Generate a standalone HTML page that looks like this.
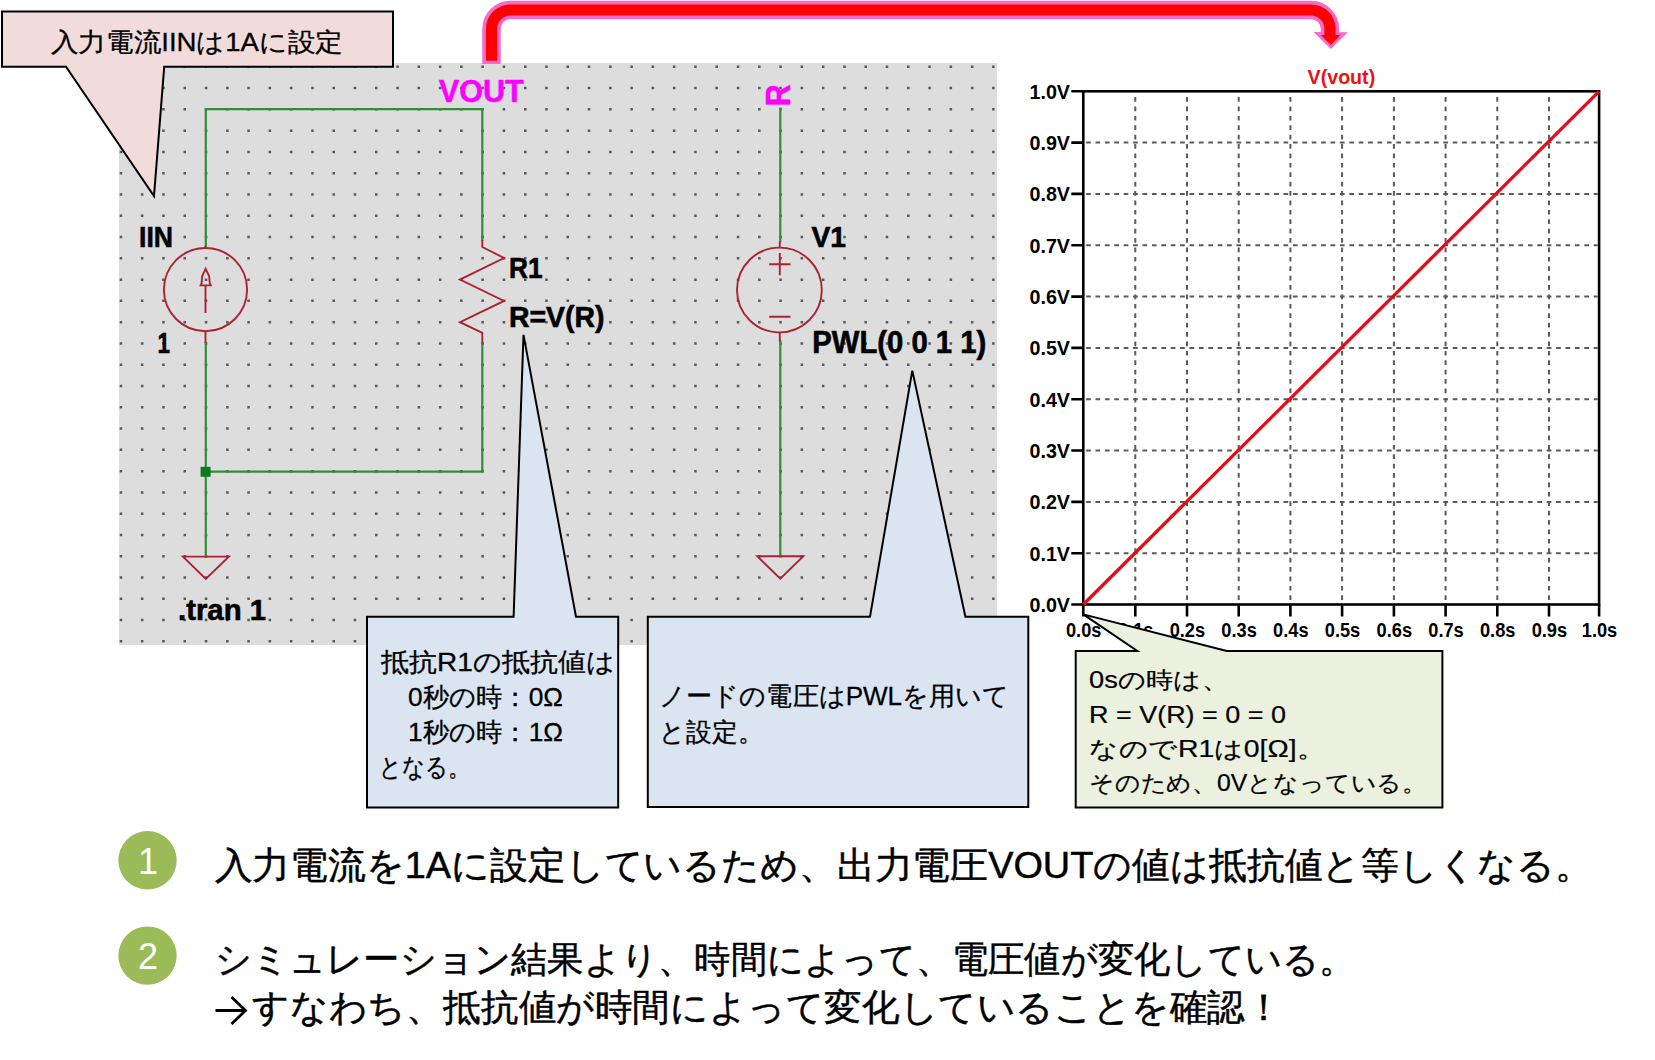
<!DOCTYPE html><html><head><meta charset="utf-8"><title>LTspice behavioral resistor</title><style>html,body{margin:0;padding:0;background:#fff;width:1655px;height:1060px;overflow:hidden}svg{display:block}text{font-family:"Liberation Sans",sans-serif}</style></head><body>
<svg width="1655" height="1060" viewBox="0 0 1655 1060">
<rect x="119" y="63" width="878" height="582" fill="#dddddd"/>
<path fill="#585858" d="M119.7 65.5h2.5v2.5h-2.5zM119.7 86.8h2.5v2.5h-2.5zM119.7 108.1h2.5v2.5h-2.5zM119.7 129.4h2.5v2.5h-2.5zM119.7 150.7h2.5v2.5h-2.5zM119.7 171.9h2.5v2.5h-2.5zM119.7 193.2h2.5v2.5h-2.5zM119.7 214.5h2.5v2.5h-2.5zM119.7 235.8h2.5v2.5h-2.5zM119.7 257.1h2.5v2.5h-2.5zM119.7 278.4h2.5v2.5h-2.5zM119.7 299.6h2.5v2.5h-2.5zM119.7 320.9h2.5v2.5h-2.5zM119.7 342.2h2.5v2.5h-2.5zM119.7 363.5h2.5v2.5h-2.5zM119.7 384.8h2.5v2.5h-2.5zM119.7 406.0h2.5v2.5h-2.5zM119.7 427.3h2.5v2.5h-2.5zM119.7 448.6h2.5v2.5h-2.5zM119.7 469.9h2.5v2.5h-2.5zM119.7 491.2h2.5v2.5h-2.5zM119.7 512.4h2.5v2.5h-2.5zM119.7 533.7h2.5v2.5h-2.5zM119.7 555.0h2.5v2.5h-2.5zM119.7 576.3h2.5v2.5h-2.5zM119.7 597.5h2.5v2.5h-2.5zM119.7 618.8h2.5v2.5h-2.5zM119.7 640.1h2.5v2.5h-2.5zM140.9 65.5h2.5v2.5h-2.5zM140.9 86.8h2.5v2.5h-2.5zM140.9 108.1h2.5v2.5h-2.5zM140.9 129.4h2.5v2.5h-2.5zM140.9 150.7h2.5v2.5h-2.5zM140.9 171.9h2.5v2.5h-2.5zM140.9 193.2h2.5v2.5h-2.5zM140.9 214.5h2.5v2.5h-2.5zM140.9 235.8h2.5v2.5h-2.5zM140.9 257.1h2.5v2.5h-2.5zM140.9 278.4h2.5v2.5h-2.5zM140.9 299.6h2.5v2.5h-2.5zM140.9 320.9h2.5v2.5h-2.5zM140.9 342.2h2.5v2.5h-2.5zM140.9 363.5h2.5v2.5h-2.5zM140.9 384.8h2.5v2.5h-2.5zM140.9 406.0h2.5v2.5h-2.5zM140.9 427.3h2.5v2.5h-2.5zM140.9 448.6h2.5v2.5h-2.5zM140.9 469.9h2.5v2.5h-2.5zM140.9 491.2h2.5v2.5h-2.5zM140.9 512.4h2.5v2.5h-2.5zM140.9 533.7h2.5v2.5h-2.5zM140.9 555.0h2.5v2.5h-2.5zM140.9 576.3h2.5v2.5h-2.5zM140.9 597.5h2.5v2.5h-2.5zM140.9 618.8h2.5v2.5h-2.5zM140.9 640.1h2.5v2.5h-2.5zM162.2 65.5h2.5v2.5h-2.5zM162.2 86.8h2.5v2.5h-2.5zM162.2 108.1h2.5v2.5h-2.5zM162.2 129.4h2.5v2.5h-2.5zM162.2 150.7h2.5v2.5h-2.5zM162.2 171.9h2.5v2.5h-2.5zM162.2 193.2h2.5v2.5h-2.5zM162.2 214.5h2.5v2.5h-2.5zM162.2 235.8h2.5v2.5h-2.5zM162.2 257.1h2.5v2.5h-2.5zM162.2 278.4h2.5v2.5h-2.5zM162.2 299.6h2.5v2.5h-2.5zM162.2 320.9h2.5v2.5h-2.5zM162.2 342.2h2.5v2.5h-2.5zM162.2 363.5h2.5v2.5h-2.5zM162.2 384.8h2.5v2.5h-2.5zM162.2 406.0h2.5v2.5h-2.5zM162.2 427.3h2.5v2.5h-2.5zM162.2 448.6h2.5v2.5h-2.5zM162.2 469.9h2.5v2.5h-2.5zM162.2 491.2h2.5v2.5h-2.5zM162.2 512.4h2.5v2.5h-2.5zM162.2 533.7h2.5v2.5h-2.5zM162.2 555.0h2.5v2.5h-2.5zM162.2 576.3h2.5v2.5h-2.5zM162.2 597.5h2.5v2.5h-2.5zM162.2 618.8h2.5v2.5h-2.5zM162.2 640.1h2.5v2.5h-2.5zM183.5 65.5h2.5v2.5h-2.5zM183.5 86.8h2.5v2.5h-2.5zM183.5 108.1h2.5v2.5h-2.5zM183.5 129.4h2.5v2.5h-2.5zM183.5 150.7h2.5v2.5h-2.5zM183.5 171.9h2.5v2.5h-2.5zM183.5 193.2h2.5v2.5h-2.5zM183.5 214.5h2.5v2.5h-2.5zM183.5 235.8h2.5v2.5h-2.5zM183.5 257.1h2.5v2.5h-2.5zM183.5 278.4h2.5v2.5h-2.5zM183.5 299.6h2.5v2.5h-2.5zM183.5 320.9h2.5v2.5h-2.5zM183.5 342.2h2.5v2.5h-2.5zM183.5 363.5h2.5v2.5h-2.5zM183.5 384.8h2.5v2.5h-2.5zM183.5 406.0h2.5v2.5h-2.5zM183.5 427.3h2.5v2.5h-2.5zM183.5 448.6h2.5v2.5h-2.5zM183.5 469.9h2.5v2.5h-2.5zM183.5 491.2h2.5v2.5h-2.5zM183.5 512.4h2.5v2.5h-2.5zM183.5 533.7h2.5v2.5h-2.5zM183.5 555.0h2.5v2.5h-2.5zM183.5 576.3h2.5v2.5h-2.5zM183.5 597.5h2.5v2.5h-2.5zM183.5 618.8h2.5v2.5h-2.5zM183.5 640.1h2.5v2.5h-2.5zM204.8 65.5h2.5v2.5h-2.5zM204.8 86.8h2.5v2.5h-2.5zM204.8 108.1h2.5v2.5h-2.5zM204.8 129.4h2.5v2.5h-2.5zM204.8 150.7h2.5v2.5h-2.5zM204.8 171.9h2.5v2.5h-2.5zM204.8 193.2h2.5v2.5h-2.5zM204.8 214.5h2.5v2.5h-2.5zM204.8 235.8h2.5v2.5h-2.5zM204.8 257.1h2.5v2.5h-2.5zM204.8 278.4h2.5v2.5h-2.5zM204.8 299.6h2.5v2.5h-2.5zM204.8 320.9h2.5v2.5h-2.5zM204.8 342.2h2.5v2.5h-2.5zM204.8 363.5h2.5v2.5h-2.5zM204.8 384.8h2.5v2.5h-2.5zM204.8 406.0h2.5v2.5h-2.5zM204.8 427.3h2.5v2.5h-2.5zM204.8 448.6h2.5v2.5h-2.5zM204.8 469.9h2.5v2.5h-2.5zM204.8 491.2h2.5v2.5h-2.5zM204.8 512.4h2.5v2.5h-2.5zM204.8 533.7h2.5v2.5h-2.5zM204.8 555.0h2.5v2.5h-2.5zM204.8 576.3h2.5v2.5h-2.5zM204.8 597.5h2.5v2.5h-2.5zM204.8 618.8h2.5v2.5h-2.5zM204.8 640.1h2.5v2.5h-2.5zM226.1 65.5h2.5v2.5h-2.5zM226.1 86.8h2.5v2.5h-2.5zM226.1 108.1h2.5v2.5h-2.5zM226.1 129.4h2.5v2.5h-2.5zM226.1 150.7h2.5v2.5h-2.5zM226.1 171.9h2.5v2.5h-2.5zM226.1 193.2h2.5v2.5h-2.5zM226.1 214.5h2.5v2.5h-2.5zM226.1 235.8h2.5v2.5h-2.5zM226.1 257.1h2.5v2.5h-2.5zM226.1 278.4h2.5v2.5h-2.5zM226.1 299.6h2.5v2.5h-2.5zM226.1 320.9h2.5v2.5h-2.5zM226.1 342.2h2.5v2.5h-2.5zM226.1 363.5h2.5v2.5h-2.5zM226.1 384.8h2.5v2.5h-2.5zM226.1 406.0h2.5v2.5h-2.5zM226.1 427.3h2.5v2.5h-2.5zM226.1 448.6h2.5v2.5h-2.5zM226.1 469.9h2.5v2.5h-2.5zM226.1 491.2h2.5v2.5h-2.5zM226.1 512.4h2.5v2.5h-2.5zM226.1 533.7h2.5v2.5h-2.5zM226.1 555.0h2.5v2.5h-2.5zM226.1 576.3h2.5v2.5h-2.5zM226.1 597.5h2.5v2.5h-2.5zM226.1 618.8h2.5v2.5h-2.5zM226.1 640.1h2.5v2.5h-2.5zM247.3 65.5h2.5v2.5h-2.5zM247.3 86.8h2.5v2.5h-2.5zM247.3 108.1h2.5v2.5h-2.5zM247.3 129.4h2.5v2.5h-2.5zM247.3 150.7h2.5v2.5h-2.5zM247.3 171.9h2.5v2.5h-2.5zM247.3 193.2h2.5v2.5h-2.5zM247.3 214.5h2.5v2.5h-2.5zM247.3 235.8h2.5v2.5h-2.5zM247.3 257.1h2.5v2.5h-2.5zM247.3 278.4h2.5v2.5h-2.5zM247.3 299.6h2.5v2.5h-2.5zM247.3 320.9h2.5v2.5h-2.5zM247.3 342.2h2.5v2.5h-2.5zM247.3 363.5h2.5v2.5h-2.5zM247.3 384.8h2.5v2.5h-2.5zM247.3 406.0h2.5v2.5h-2.5zM247.3 427.3h2.5v2.5h-2.5zM247.3 448.6h2.5v2.5h-2.5zM247.3 469.9h2.5v2.5h-2.5zM247.3 491.2h2.5v2.5h-2.5zM247.3 512.4h2.5v2.5h-2.5zM247.3 533.7h2.5v2.5h-2.5zM247.3 555.0h2.5v2.5h-2.5zM247.3 576.3h2.5v2.5h-2.5zM247.3 597.5h2.5v2.5h-2.5zM247.3 618.8h2.5v2.5h-2.5zM247.3 640.1h2.5v2.5h-2.5zM268.6 65.5h2.5v2.5h-2.5zM268.6 86.8h2.5v2.5h-2.5zM268.6 108.1h2.5v2.5h-2.5zM268.6 129.4h2.5v2.5h-2.5zM268.6 150.7h2.5v2.5h-2.5zM268.6 171.9h2.5v2.5h-2.5zM268.6 193.2h2.5v2.5h-2.5zM268.6 214.5h2.5v2.5h-2.5zM268.6 235.8h2.5v2.5h-2.5zM268.6 257.1h2.5v2.5h-2.5zM268.6 278.4h2.5v2.5h-2.5zM268.6 299.6h2.5v2.5h-2.5zM268.6 320.9h2.5v2.5h-2.5zM268.6 342.2h2.5v2.5h-2.5zM268.6 363.5h2.5v2.5h-2.5zM268.6 384.8h2.5v2.5h-2.5zM268.6 406.0h2.5v2.5h-2.5zM268.6 427.3h2.5v2.5h-2.5zM268.6 448.6h2.5v2.5h-2.5zM268.6 469.9h2.5v2.5h-2.5zM268.6 491.2h2.5v2.5h-2.5zM268.6 512.4h2.5v2.5h-2.5zM268.6 533.7h2.5v2.5h-2.5zM268.6 555.0h2.5v2.5h-2.5zM268.6 576.3h2.5v2.5h-2.5zM268.6 597.5h2.5v2.5h-2.5zM268.6 618.8h2.5v2.5h-2.5zM268.6 640.1h2.5v2.5h-2.5zM289.9 65.5h2.5v2.5h-2.5zM289.9 86.8h2.5v2.5h-2.5zM289.9 108.1h2.5v2.5h-2.5zM289.9 129.4h2.5v2.5h-2.5zM289.9 150.7h2.5v2.5h-2.5zM289.9 171.9h2.5v2.5h-2.5zM289.9 193.2h2.5v2.5h-2.5zM289.9 214.5h2.5v2.5h-2.5zM289.9 235.8h2.5v2.5h-2.5zM289.9 257.1h2.5v2.5h-2.5zM289.9 278.4h2.5v2.5h-2.5zM289.9 299.6h2.5v2.5h-2.5zM289.9 320.9h2.5v2.5h-2.5zM289.9 342.2h2.5v2.5h-2.5zM289.9 363.5h2.5v2.5h-2.5zM289.9 384.8h2.5v2.5h-2.5zM289.9 406.0h2.5v2.5h-2.5zM289.9 427.3h2.5v2.5h-2.5zM289.9 448.6h2.5v2.5h-2.5zM289.9 469.9h2.5v2.5h-2.5zM289.9 491.2h2.5v2.5h-2.5zM289.9 512.4h2.5v2.5h-2.5zM289.9 533.7h2.5v2.5h-2.5zM289.9 555.0h2.5v2.5h-2.5zM289.9 576.3h2.5v2.5h-2.5zM289.9 597.5h2.5v2.5h-2.5zM289.9 618.8h2.5v2.5h-2.5zM289.9 640.1h2.5v2.5h-2.5zM311.2 65.5h2.5v2.5h-2.5zM311.2 86.8h2.5v2.5h-2.5zM311.2 108.1h2.5v2.5h-2.5zM311.2 129.4h2.5v2.5h-2.5zM311.2 150.7h2.5v2.5h-2.5zM311.2 171.9h2.5v2.5h-2.5zM311.2 193.2h2.5v2.5h-2.5zM311.2 214.5h2.5v2.5h-2.5zM311.2 235.8h2.5v2.5h-2.5zM311.2 257.1h2.5v2.5h-2.5zM311.2 278.4h2.5v2.5h-2.5zM311.2 299.6h2.5v2.5h-2.5zM311.2 320.9h2.5v2.5h-2.5zM311.2 342.2h2.5v2.5h-2.5zM311.2 363.5h2.5v2.5h-2.5zM311.2 384.8h2.5v2.5h-2.5zM311.2 406.0h2.5v2.5h-2.5zM311.2 427.3h2.5v2.5h-2.5zM311.2 448.6h2.5v2.5h-2.5zM311.2 469.9h2.5v2.5h-2.5zM311.2 491.2h2.5v2.5h-2.5zM311.2 512.4h2.5v2.5h-2.5zM311.2 533.7h2.5v2.5h-2.5zM311.2 555.0h2.5v2.5h-2.5zM311.2 576.3h2.5v2.5h-2.5zM311.2 597.5h2.5v2.5h-2.5zM311.2 618.8h2.5v2.5h-2.5zM311.2 640.1h2.5v2.5h-2.5zM332.5 65.5h2.5v2.5h-2.5zM332.5 86.8h2.5v2.5h-2.5zM332.5 108.1h2.5v2.5h-2.5zM332.5 129.4h2.5v2.5h-2.5zM332.5 150.7h2.5v2.5h-2.5zM332.5 171.9h2.5v2.5h-2.5zM332.5 193.2h2.5v2.5h-2.5zM332.5 214.5h2.5v2.5h-2.5zM332.5 235.8h2.5v2.5h-2.5zM332.5 257.1h2.5v2.5h-2.5zM332.5 278.4h2.5v2.5h-2.5zM332.5 299.6h2.5v2.5h-2.5zM332.5 320.9h2.5v2.5h-2.5zM332.5 342.2h2.5v2.5h-2.5zM332.5 363.5h2.5v2.5h-2.5zM332.5 384.8h2.5v2.5h-2.5zM332.5 406.0h2.5v2.5h-2.5zM332.5 427.3h2.5v2.5h-2.5zM332.5 448.6h2.5v2.5h-2.5zM332.5 469.9h2.5v2.5h-2.5zM332.5 491.2h2.5v2.5h-2.5zM332.5 512.4h2.5v2.5h-2.5zM332.5 533.7h2.5v2.5h-2.5zM332.5 555.0h2.5v2.5h-2.5zM332.5 576.3h2.5v2.5h-2.5zM332.5 597.5h2.5v2.5h-2.5zM332.5 618.8h2.5v2.5h-2.5zM332.5 640.1h2.5v2.5h-2.5zM353.7 65.5h2.5v2.5h-2.5zM353.7 86.8h2.5v2.5h-2.5zM353.7 108.1h2.5v2.5h-2.5zM353.7 129.4h2.5v2.5h-2.5zM353.7 150.7h2.5v2.5h-2.5zM353.7 171.9h2.5v2.5h-2.5zM353.7 193.2h2.5v2.5h-2.5zM353.7 214.5h2.5v2.5h-2.5zM353.7 235.8h2.5v2.5h-2.5zM353.7 257.1h2.5v2.5h-2.5zM353.7 278.4h2.5v2.5h-2.5zM353.7 299.6h2.5v2.5h-2.5zM353.7 320.9h2.5v2.5h-2.5zM353.7 342.2h2.5v2.5h-2.5zM353.7 363.5h2.5v2.5h-2.5zM353.7 384.8h2.5v2.5h-2.5zM353.7 406.0h2.5v2.5h-2.5zM353.7 427.3h2.5v2.5h-2.5zM353.7 448.6h2.5v2.5h-2.5zM353.7 469.9h2.5v2.5h-2.5zM353.7 491.2h2.5v2.5h-2.5zM353.7 512.4h2.5v2.5h-2.5zM353.7 533.7h2.5v2.5h-2.5zM353.7 555.0h2.5v2.5h-2.5zM353.7 576.3h2.5v2.5h-2.5zM353.7 597.5h2.5v2.5h-2.5zM353.7 618.8h2.5v2.5h-2.5zM353.7 640.1h2.5v2.5h-2.5zM375.0 65.5h2.5v2.5h-2.5zM375.0 86.8h2.5v2.5h-2.5zM375.0 108.1h2.5v2.5h-2.5zM375.0 129.4h2.5v2.5h-2.5zM375.0 150.7h2.5v2.5h-2.5zM375.0 171.9h2.5v2.5h-2.5zM375.0 193.2h2.5v2.5h-2.5zM375.0 214.5h2.5v2.5h-2.5zM375.0 235.8h2.5v2.5h-2.5zM375.0 257.1h2.5v2.5h-2.5zM375.0 278.4h2.5v2.5h-2.5zM375.0 299.6h2.5v2.5h-2.5zM375.0 320.9h2.5v2.5h-2.5zM375.0 342.2h2.5v2.5h-2.5zM375.0 363.5h2.5v2.5h-2.5zM375.0 384.8h2.5v2.5h-2.5zM375.0 406.0h2.5v2.5h-2.5zM375.0 427.3h2.5v2.5h-2.5zM375.0 448.6h2.5v2.5h-2.5zM375.0 469.9h2.5v2.5h-2.5zM375.0 491.2h2.5v2.5h-2.5zM375.0 512.4h2.5v2.5h-2.5zM375.0 533.7h2.5v2.5h-2.5zM375.0 555.0h2.5v2.5h-2.5zM375.0 576.3h2.5v2.5h-2.5zM375.0 597.5h2.5v2.5h-2.5zM375.0 618.8h2.5v2.5h-2.5zM375.0 640.1h2.5v2.5h-2.5zM396.3 65.5h2.5v2.5h-2.5zM396.3 86.8h2.5v2.5h-2.5zM396.3 108.1h2.5v2.5h-2.5zM396.3 129.4h2.5v2.5h-2.5zM396.3 150.7h2.5v2.5h-2.5zM396.3 171.9h2.5v2.5h-2.5zM396.3 193.2h2.5v2.5h-2.5zM396.3 214.5h2.5v2.5h-2.5zM396.3 235.8h2.5v2.5h-2.5zM396.3 257.1h2.5v2.5h-2.5zM396.3 278.4h2.5v2.5h-2.5zM396.3 299.6h2.5v2.5h-2.5zM396.3 320.9h2.5v2.5h-2.5zM396.3 342.2h2.5v2.5h-2.5zM396.3 363.5h2.5v2.5h-2.5zM396.3 384.8h2.5v2.5h-2.5zM396.3 406.0h2.5v2.5h-2.5zM396.3 427.3h2.5v2.5h-2.5zM396.3 448.6h2.5v2.5h-2.5zM396.3 469.9h2.5v2.5h-2.5zM396.3 491.2h2.5v2.5h-2.5zM396.3 512.4h2.5v2.5h-2.5zM396.3 533.7h2.5v2.5h-2.5zM396.3 555.0h2.5v2.5h-2.5zM396.3 576.3h2.5v2.5h-2.5zM396.3 597.5h2.5v2.5h-2.5zM396.3 618.8h2.5v2.5h-2.5zM396.3 640.1h2.5v2.5h-2.5zM417.6 65.5h2.5v2.5h-2.5zM417.6 86.8h2.5v2.5h-2.5zM417.6 108.1h2.5v2.5h-2.5zM417.6 129.4h2.5v2.5h-2.5zM417.6 150.7h2.5v2.5h-2.5zM417.6 171.9h2.5v2.5h-2.5zM417.6 193.2h2.5v2.5h-2.5zM417.6 214.5h2.5v2.5h-2.5zM417.6 235.8h2.5v2.5h-2.5zM417.6 257.1h2.5v2.5h-2.5zM417.6 278.4h2.5v2.5h-2.5zM417.6 299.6h2.5v2.5h-2.5zM417.6 320.9h2.5v2.5h-2.5zM417.6 342.2h2.5v2.5h-2.5zM417.6 363.5h2.5v2.5h-2.5zM417.6 384.8h2.5v2.5h-2.5zM417.6 406.0h2.5v2.5h-2.5zM417.6 427.3h2.5v2.5h-2.5zM417.6 448.6h2.5v2.5h-2.5zM417.6 469.9h2.5v2.5h-2.5zM417.6 491.2h2.5v2.5h-2.5zM417.6 512.4h2.5v2.5h-2.5zM417.6 533.7h2.5v2.5h-2.5zM417.6 555.0h2.5v2.5h-2.5zM417.6 576.3h2.5v2.5h-2.5zM417.6 597.5h2.5v2.5h-2.5zM417.6 618.8h2.5v2.5h-2.5zM417.6 640.1h2.5v2.5h-2.5zM438.9 65.5h2.5v2.5h-2.5zM438.9 86.8h2.5v2.5h-2.5zM438.9 108.1h2.5v2.5h-2.5zM438.9 129.4h2.5v2.5h-2.5zM438.9 150.7h2.5v2.5h-2.5zM438.9 171.9h2.5v2.5h-2.5zM438.9 193.2h2.5v2.5h-2.5zM438.9 214.5h2.5v2.5h-2.5zM438.9 235.8h2.5v2.5h-2.5zM438.9 257.1h2.5v2.5h-2.5zM438.9 278.4h2.5v2.5h-2.5zM438.9 299.6h2.5v2.5h-2.5zM438.9 320.9h2.5v2.5h-2.5zM438.9 342.2h2.5v2.5h-2.5zM438.9 363.5h2.5v2.5h-2.5zM438.9 384.8h2.5v2.5h-2.5zM438.9 406.0h2.5v2.5h-2.5zM438.9 427.3h2.5v2.5h-2.5zM438.9 448.6h2.5v2.5h-2.5zM438.9 469.9h2.5v2.5h-2.5zM438.9 491.2h2.5v2.5h-2.5zM438.9 512.4h2.5v2.5h-2.5zM438.9 533.7h2.5v2.5h-2.5zM438.9 555.0h2.5v2.5h-2.5zM438.9 576.3h2.5v2.5h-2.5zM438.9 597.5h2.5v2.5h-2.5zM438.9 618.8h2.5v2.5h-2.5zM438.9 640.1h2.5v2.5h-2.5zM460.1 65.5h2.5v2.5h-2.5zM460.1 86.8h2.5v2.5h-2.5zM460.1 108.1h2.5v2.5h-2.5zM460.1 129.4h2.5v2.5h-2.5zM460.1 150.7h2.5v2.5h-2.5zM460.1 171.9h2.5v2.5h-2.5zM460.1 193.2h2.5v2.5h-2.5zM460.1 214.5h2.5v2.5h-2.5zM460.1 235.8h2.5v2.5h-2.5zM460.1 257.1h2.5v2.5h-2.5zM460.1 278.4h2.5v2.5h-2.5zM460.1 299.6h2.5v2.5h-2.5zM460.1 320.9h2.5v2.5h-2.5zM460.1 342.2h2.5v2.5h-2.5zM460.1 363.5h2.5v2.5h-2.5zM460.1 384.8h2.5v2.5h-2.5zM460.1 406.0h2.5v2.5h-2.5zM460.1 427.3h2.5v2.5h-2.5zM460.1 448.6h2.5v2.5h-2.5zM460.1 469.9h2.5v2.5h-2.5zM460.1 491.2h2.5v2.5h-2.5zM460.1 512.4h2.5v2.5h-2.5zM460.1 533.7h2.5v2.5h-2.5zM460.1 555.0h2.5v2.5h-2.5zM460.1 576.3h2.5v2.5h-2.5zM460.1 597.5h2.5v2.5h-2.5zM460.1 618.8h2.5v2.5h-2.5zM460.1 640.1h2.5v2.5h-2.5zM481.4 65.5h2.5v2.5h-2.5zM481.4 86.8h2.5v2.5h-2.5zM481.4 108.1h2.5v2.5h-2.5zM481.4 129.4h2.5v2.5h-2.5zM481.4 150.7h2.5v2.5h-2.5zM481.4 171.9h2.5v2.5h-2.5zM481.4 193.2h2.5v2.5h-2.5zM481.4 214.5h2.5v2.5h-2.5zM481.4 235.8h2.5v2.5h-2.5zM481.4 257.1h2.5v2.5h-2.5zM481.4 278.4h2.5v2.5h-2.5zM481.4 299.6h2.5v2.5h-2.5zM481.4 320.9h2.5v2.5h-2.5zM481.4 342.2h2.5v2.5h-2.5zM481.4 363.5h2.5v2.5h-2.5zM481.4 384.8h2.5v2.5h-2.5zM481.4 406.0h2.5v2.5h-2.5zM481.4 427.3h2.5v2.5h-2.5zM481.4 448.6h2.5v2.5h-2.5zM481.4 469.9h2.5v2.5h-2.5zM481.4 491.2h2.5v2.5h-2.5zM481.4 512.4h2.5v2.5h-2.5zM481.4 533.7h2.5v2.5h-2.5zM481.4 555.0h2.5v2.5h-2.5zM481.4 576.3h2.5v2.5h-2.5zM481.4 597.5h2.5v2.5h-2.5zM481.4 618.8h2.5v2.5h-2.5zM481.4 640.1h2.5v2.5h-2.5zM502.7 65.5h2.5v2.5h-2.5zM502.7 86.8h2.5v2.5h-2.5zM502.7 108.1h2.5v2.5h-2.5zM502.7 129.4h2.5v2.5h-2.5zM502.7 150.7h2.5v2.5h-2.5zM502.7 171.9h2.5v2.5h-2.5zM502.7 193.2h2.5v2.5h-2.5zM502.7 214.5h2.5v2.5h-2.5zM502.7 235.8h2.5v2.5h-2.5zM502.7 257.1h2.5v2.5h-2.5zM502.7 278.4h2.5v2.5h-2.5zM502.7 299.6h2.5v2.5h-2.5zM502.7 320.9h2.5v2.5h-2.5zM502.7 342.2h2.5v2.5h-2.5zM502.7 363.5h2.5v2.5h-2.5zM502.7 384.8h2.5v2.5h-2.5zM502.7 406.0h2.5v2.5h-2.5zM502.7 427.3h2.5v2.5h-2.5zM502.7 448.6h2.5v2.5h-2.5zM502.7 469.9h2.5v2.5h-2.5zM502.7 491.2h2.5v2.5h-2.5zM502.7 512.4h2.5v2.5h-2.5zM502.7 533.7h2.5v2.5h-2.5zM502.7 555.0h2.5v2.5h-2.5zM502.7 576.3h2.5v2.5h-2.5zM502.7 597.5h2.5v2.5h-2.5zM502.7 618.8h2.5v2.5h-2.5zM502.7 640.1h2.5v2.5h-2.5zM524.0 65.5h2.5v2.5h-2.5zM524.0 86.8h2.5v2.5h-2.5zM524.0 108.1h2.5v2.5h-2.5zM524.0 129.4h2.5v2.5h-2.5zM524.0 150.7h2.5v2.5h-2.5zM524.0 171.9h2.5v2.5h-2.5zM524.0 193.2h2.5v2.5h-2.5zM524.0 214.5h2.5v2.5h-2.5zM524.0 235.8h2.5v2.5h-2.5zM524.0 257.1h2.5v2.5h-2.5zM524.0 278.4h2.5v2.5h-2.5zM524.0 299.6h2.5v2.5h-2.5zM524.0 320.9h2.5v2.5h-2.5zM524.0 342.2h2.5v2.5h-2.5zM524.0 363.5h2.5v2.5h-2.5zM524.0 384.8h2.5v2.5h-2.5zM524.0 406.0h2.5v2.5h-2.5zM524.0 427.3h2.5v2.5h-2.5zM524.0 448.6h2.5v2.5h-2.5zM524.0 469.9h2.5v2.5h-2.5zM524.0 491.2h2.5v2.5h-2.5zM524.0 512.4h2.5v2.5h-2.5zM524.0 533.7h2.5v2.5h-2.5zM524.0 555.0h2.5v2.5h-2.5zM524.0 576.3h2.5v2.5h-2.5zM524.0 597.5h2.5v2.5h-2.5zM524.0 618.8h2.5v2.5h-2.5zM524.0 640.1h2.5v2.5h-2.5zM545.2 65.5h2.5v2.5h-2.5zM545.2 86.8h2.5v2.5h-2.5zM545.2 108.1h2.5v2.5h-2.5zM545.2 129.4h2.5v2.5h-2.5zM545.2 150.7h2.5v2.5h-2.5zM545.2 171.9h2.5v2.5h-2.5zM545.2 193.2h2.5v2.5h-2.5zM545.2 214.5h2.5v2.5h-2.5zM545.2 235.8h2.5v2.5h-2.5zM545.2 257.1h2.5v2.5h-2.5zM545.2 278.4h2.5v2.5h-2.5zM545.2 299.6h2.5v2.5h-2.5zM545.2 320.9h2.5v2.5h-2.5zM545.2 342.2h2.5v2.5h-2.5zM545.2 363.5h2.5v2.5h-2.5zM545.2 384.8h2.5v2.5h-2.5zM545.2 406.0h2.5v2.5h-2.5zM545.2 427.3h2.5v2.5h-2.5zM545.2 448.6h2.5v2.5h-2.5zM545.2 469.9h2.5v2.5h-2.5zM545.2 491.2h2.5v2.5h-2.5zM545.2 512.4h2.5v2.5h-2.5zM545.2 533.7h2.5v2.5h-2.5zM545.2 555.0h2.5v2.5h-2.5zM545.2 576.3h2.5v2.5h-2.5zM545.2 597.5h2.5v2.5h-2.5zM545.2 618.8h2.5v2.5h-2.5zM545.2 640.1h2.5v2.5h-2.5zM566.5 65.5h2.5v2.5h-2.5zM566.5 86.8h2.5v2.5h-2.5zM566.5 108.1h2.5v2.5h-2.5zM566.5 129.4h2.5v2.5h-2.5zM566.5 150.7h2.5v2.5h-2.5zM566.5 171.9h2.5v2.5h-2.5zM566.5 193.2h2.5v2.5h-2.5zM566.5 214.5h2.5v2.5h-2.5zM566.5 235.8h2.5v2.5h-2.5zM566.5 257.1h2.5v2.5h-2.5zM566.5 278.4h2.5v2.5h-2.5zM566.5 299.6h2.5v2.5h-2.5zM566.5 320.9h2.5v2.5h-2.5zM566.5 342.2h2.5v2.5h-2.5zM566.5 363.5h2.5v2.5h-2.5zM566.5 384.8h2.5v2.5h-2.5zM566.5 406.0h2.5v2.5h-2.5zM566.5 427.3h2.5v2.5h-2.5zM566.5 448.6h2.5v2.5h-2.5zM566.5 469.9h2.5v2.5h-2.5zM566.5 491.2h2.5v2.5h-2.5zM566.5 512.4h2.5v2.5h-2.5zM566.5 533.7h2.5v2.5h-2.5zM566.5 555.0h2.5v2.5h-2.5zM566.5 576.3h2.5v2.5h-2.5zM566.5 597.5h2.5v2.5h-2.5zM566.5 618.8h2.5v2.5h-2.5zM566.5 640.1h2.5v2.5h-2.5zM587.8 65.5h2.5v2.5h-2.5zM587.8 86.8h2.5v2.5h-2.5zM587.8 108.1h2.5v2.5h-2.5zM587.8 129.4h2.5v2.5h-2.5zM587.8 150.7h2.5v2.5h-2.5zM587.8 171.9h2.5v2.5h-2.5zM587.8 193.2h2.5v2.5h-2.5zM587.8 214.5h2.5v2.5h-2.5zM587.8 235.8h2.5v2.5h-2.5zM587.8 257.1h2.5v2.5h-2.5zM587.8 278.4h2.5v2.5h-2.5zM587.8 299.6h2.5v2.5h-2.5zM587.8 320.9h2.5v2.5h-2.5zM587.8 342.2h2.5v2.5h-2.5zM587.8 363.5h2.5v2.5h-2.5zM587.8 384.8h2.5v2.5h-2.5zM587.8 406.0h2.5v2.5h-2.5zM587.8 427.3h2.5v2.5h-2.5zM587.8 448.6h2.5v2.5h-2.5zM587.8 469.9h2.5v2.5h-2.5zM587.8 491.2h2.5v2.5h-2.5zM587.8 512.4h2.5v2.5h-2.5zM587.8 533.7h2.5v2.5h-2.5zM587.8 555.0h2.5v2.5h-2.5zM587.8 576.3h2.5v2.5h-2.5zM587.8 597.5h2.5v2.5h-2.5zM587.8 618.8h2.5v2.5h-2.5zM587.8 640.1h2.5v2.5h-2.5zM609.1 65.5h2.5v2.5h-2.5zM609.1 86.8h2.5v2.5h-2.5zM609.1 108.1h2.5v2.5h-2.5zM609.1 129.4h2.5v2.5h-2.5zM609.1 150.7h2.5v2.5h-2.5zM609.1 171.9h2.5v2.5h-2.5zM609.1 193.2h2.5v2.5h-2.5zM609.1 214.5h2.5v2.5h-2.5zM609.1 235.8h2.5v2.5h-2.5zM609.1 257.1h2.5v2.5h-2.5zM609.1 278.4h2.5v2.5h-2.5zM609.1 299.6h2.5v2.5h-2.5zM609.1 320.9h2.5v2.5h-2.5zM609.1 342.2h2.5v2.5h-2.5zM609.1 363.5h2.5v2.5h-2.5zM609.1 384.8h2.5v2.5h-2.5zM609.1 406.0h2.5v2.5h-2.5zM609.1 427.3h2.5v2.5h-2.5zM609.1 448.6h2.5v2.5h-2.5zM609.1 469.9h2.5v2.5h-2.5zM609.1 491.2h2.5v2.5h-2.5zM609.1 512.4h2.5v2.5h-2.5zM609.1 533.7h2.5v2.5h-2.5zM609.1 555.0h2.5v2.5h-2.5zM609.1 576.3h2.5v2.5h-2.5zM609.1 597.5h2.5v2.5h-2.5zM609.1 618.8h2.5v2.5h-2.5zM609.1 640.1h2.5v2.5h-2.5zM630.4 65.5h2.5v2.5h-2.5zM630.4 86.8h2.5v2.5h-2.5zM630.4 108.1h2.5v2.5h-2.5zM630.4 129.4h2.5v2.5h-2.5zM630.4 150.7h2.5v2.5h-2.5zM630.4 171.9h2.5v2.5h-2.5zM630.4 193.2h2.5v2.5h-2.5zM630.4 214.5h2.5v2.5h-2.5zM630.4 235.8h2.5v2.5h-2.5zM630.4 257.1h2.5v2.5h-2.5zM630.4 278.4h2.5v2.5h-2.5zM630.4 299.6h2.5v2.5h-2.5zM630.4 320.9h2.5v2.5h-2.5zM630.4 342.2h2.5v2.5h-2.5zM630.4 363.5h2.5v2.5h-2.5zM630.4 384.8h2.5v2.5h-2.5zM630.4 406.0h2.5v2.5h-2.5zM630.4 427.3h2.5v2.5h-2.5zM630.4 448.6h2.5v2.5h-2.5zM630.4 469.9h2.5v2.5h-2.5zM630.4 491.2h2.5v2.5h-2.5zM630.4 512.4h2.5v2.5h-2.5zM630.4 533.7h2.5v2.5h-2.5zM630.4 555.0h2.5v2.5h-2.5zM630.4 576.3h2.5v2.5h-2.5zM630.4 597.5h2.5v2.5h-2.5zM630.4 618.8h2.5v2.5h-2.5zM630.4 640.1h2.5v2.5h-2.5zM651.6 65.5h2.5v2.5h-2.5zM651.6 86.8h2.5v2.5h-2.5zM651.6 108.1h2.5v2.5h-2.5zM651.6 129.4h2.5v2.5h-2.5zM651.6 150.7h2.5v2.5h-2.5zM651.6 171.9h2.5v2.5h-2.5zM651.6 193.2h2.5v2.5h-2.5zM651.6 214.5h2.5v2.5h-2.5zM651.6 235.8h2.5v2.5h-2.5zM651.6 257.1h2.5v2.5h-2.5zM651.6 278.4h2.5v2.5h-2.5zM651.6 299.6h2.5v2.5h-2.5zM651.6 320.9h2.5v2.5h-2.5zM651.6 342.2h2.5v2.5h-2.5zM651.6 363.5h2.5v2.5h-2.5zM651.6 384.8h2.5v2.5h-2.5zM651.6 406.0h2.5v2.5h-2.5zM651.6 427.3h2.5v2.5h-2.5zM651.6 448.6h2.5v2.5h-2.5zM651.6 469.9h2.5v2.5h-2.5zM651.6 491.2h2.5v2.5h-2.5zM651.6 512.4h2.5v2.5h-2.5zM651.6 533.7h2.5v2.5h-2.5zM651.6 555.0h2.5v2.5h-2.5zM651.6 576.3h2.5v2.5h-2.5zM651.6 597.5h2.5v2.5h-2.5zM651.6 618.8h2.5v2.5h-2.5zM651.6 640.1h2.5v2.5h-2.5zM672.9 65.5h2.5v2.5h-2.5zM672.9 86.8h2.5v2.5h-2.5zM672.9 108.1h2.5v2.5h-2.5zM672.9 129.4h2.5v2.5h-2.5zM672.9 150.7h2.5v2.5h-2.5zM672.9 171.9h2.5v2.5h-2.5zM672.9 193.2h2.5v2.5h-2.5zM672.9 214.5h2.5v2.5h-2.5zM672.9 235.8h2.5v2.5h-2.5zM672.9 257.1h2.5v2.5h-2.5zM672.9 278.4h2.5v2.5h-2.5zM672.9 299.6h2.5v2.5h-2.5zM672.9 320.9h2.5v2.5h-2.5zM672.9 342.2h2.5v2.5h-2.5zM672.9 363.5h2.5v2.5h-2.5zM672.9 384.8h2.5v2.5h-2.5zM672.9 406.0h2.5v2.5h-2.5zM672.9 427.3h2.5v2.5h-2.5zM672.9 448.6h2.5v2.5h-2.5zM672.9 469.9h2.5v2.5h-2.5zM672.9 491.2h2.5v2.5h-2.5zM672.9 512.4h2.5v2.5h-2.5zM672.9 533.7h2.5v2.5h-2.5zM672.9 555.0h2.5v2.5h-2.5zM672.9 576.3h2.5v2.5h-2.5zM672.9 597.5h2.5v2.5h-2.5zM672.9 618.8h2.5v2.5h-2.5zM672.9 640.1h2.5v2.5h-2.5zM694.2 65.5h2.5v2.5h-2.5zM694.2 86.8h2.5v2.5h-2.5zM694.2 108.1h2.5v2.5h-2.5zM694.2 129.4h2.5v2.5h-2.5zM694.2 150.7h2.5v2.5h-2.5zM694.2 171.9h2.5v2.5h-2.5zM694.2 193.2h2.5v2.5h-2.5zM694.2 214.5h2.5v2.5h-2.5zM694.2 235.8h2.5v2.5h-2.5zM694.2 257.1h2.5v2.5h-2.5zM694.2 278.4h2.5v2.5h-2.5zM694.2 299.6h2.5v2.5h-2.5zM694.2 320.9h2.5v2.5h-2.5zM694.2 342.2h2.5v2.5h-2.5zM694.2 363.5h2.5v2.5h-2.5zM694.2 384.8h2.5v2.5h-2.5zM694.2 406.0h2.5v2.5h-2.5zM694.2 427.3h2.5v2.5h-2.5zM694.2 448.6h2.5v2.5h-2.5zM694.2 469.9h2.5v2.5h-2.5zM694.2 491.2h2.5v2.5h-2.5zM694.2 512.4h2.5v2.5h-2.5zM694.2 533.7h2.5v2.5h-2.5zM694.2 555.0h2.5v2.5h-2.5zM694.2 576.3h2.5v2.5h-2.5zM694.2 597.5h2.5v2.5h-2.5zM694.2 618.8h2.5v2.5h-2.5zM694.2 640.1h2.5v2.5h-2.5zM715.5 65.5h2.5v2.5h-2.5zM715.5 86.8h2.5v2.5h-2.5zM715.5 108.1h2.5v2.5h-2.5zM715.5 129.4h2.5v2.5h-2.5zM715.5 150.7h2.5v2.5h-2.5zM715.5 171.9h2.5v2.5h-2.5zM715.5 193.2h2.5v2.5h-2.5zM715.5 214.5h2.5v2.5h-2.5zM715.5 235.8h2.5v2.5h-2.5zM715.5 257.1h2.5v2.5h-2.5zM715.5 278.4h2.5v2.5h-2.5zM715.5 299.6h2.5v2.5h-2.5zM715.5 320.9h2.5v2.5h-2.5zM715.5 342.2h2.5v2.5h-2.5zM715.5 363.5h2.5v2.5h-2.5zM715.5 384.8h2.5v2.5h-2.5zM715.5 406.0h2.5v2.5h-2.5zM715.5 427.3h2.5v2.5h-2.5zM715.5 448.6h2.5v2.5h-2.5zM715.5 469.9h2.5v2.5h-2.5zM715.5 491.2h2.5v2.5h-2.5zM715.5 512.4h2.5v2.5h-2.5zM715.5 533.7h2.5v2.5h-2.5zM715.5 555.0h2.5v2.5h-2.5zM715.5 576.3h2.5v2.5h-2.5zM715.5 597.5h2.5v2.5h-2.5zM715.5 618.8h2.5v2.5h-2.5zM715.5 640.1h2.5v2.5h-2.5zM736.8 65.5h2.5v2.5h-2.5zM736.8 86.8h2.5v2.5h-2.5zM736.8 108.1h2.5v2.5h-2.5zM736.8 129.4h2.5v2.5h-2.5zM736.8 150.7h2.5v2.5h-2.5zM736.8 171.9h2.5v2.5h-2.5zM736.8 193.2h2.5v2.5h-2.5zM736.8 214.5h2.5v2.5h-2.5zM736.8 235.8h2.5v2.5h-2.5zM736.8 257.1h2.5v2.5h-2.5zM736.8 278.4h2.5v2.5h-2.5zM736.8 299.6h2.5v2.5h-2.5zM736.8 320.9h2.5v2.5h-2.5zM736.8 342.2h2.5v2.5h-2.5zM736.8 363.5h2.5v2.5h-2.5zM736.8 384.8h2.5v2.5h-2.5zM736.8 406.0h2.5v2.5h-2.5zM736.8 427.3h2.5v2.5h-2.5zM736.8 448.6h2.5v2.5h-2.5zM736.8 469.9h2.5v2.5h-2.5zM736.8 491.2h2.5v2.5h-2.5zM736.8 512.4h2.5v2.5h-2.5zM736.8 533.7h2.5v2.5h-2.5zM736.8 555.0h2.5v2.5h-2.5zM736.8 576.3h2.5v2.5h-2.5zM736.8 597.5h2.5v2.5h-2.5zM736.8 618.8h2.5v2.5h-2.5zM736.8 640.1h2.5v2.5h-2.5zM758.1 65.5h2.5v2.5h-2.5zM758.1 86.8h2.5v2.5h-2.5zM758.1 108.1h2.5v2.5h-2.5zM758.1 129.4h2.5v2.5h-2.5zM758.1 150.7h2.5v2.5h-2.5zM758.1 171.9h2.5v2.5h-2.5zM758.1 193.2h2.5v2.5h-2.5zM758.1 214.5h2.5v2.5h-2.5zM758.1 235.8h2.5v2.5h-2.5zM758.1 257.1h2.5v2.5h-2.5zM758.1 278.4h2.5v2.5h-2.5zM758.1 299.6h2.5v2.5h-2.5zM758.1 320.9h2.5v2.5h-2.5zM758.1 342.2h2.5v2.5h-2.5zM758.1 363.5h2.5v2.5h-2.5zM758.1 384.8h2.5v2.5h-2.5zM758.1 406.0h2.5v2.5h-2.5zM758.1 427.3h2.5v2.5h-2.5zM758.1 448.6h2.5v2.5h-2.5zM758.1 469.9h2.5v2.5h-2.5zM758.1 491.2h2.5v2.5h-2.5zM758.1 512.4h2.5v2.5h-2.5zM758.1 533.7h2.5v2.5h-2.5zM758.1 555.0h2.5v2.5h-2.5zM758.1 576.3h2.5v2.5h-2.5zM758.1 597.5h2.5v2.5h-2.5zM758.1 618.8h2.5v2.5h-2.5zM758.1 640.1h2.5v2.5h-2.5zM779.3 65.5h2.5v2.5h-2.5zM779.3 86.8h2.5v2.5h-2.5zM779.3 108.1h2.5v2.5h-2.5zM779.3 129.4h2.5v2.5h-2.5zM779.3 150.7h2.5v2.5h-2.5zM779.3 171.9h2.5v2.5h-2.5zM779.3 193.2h2.5v2.5h-2.5zM779.3 214.5h2.5v2.5h-2.5zM779.3 235.8h2.5v2.5h-2.5zM779.3 257.1h2.5v2.5h-2.5zM779.3 278.4h2.5v2.5h-2.5zM779.3 299.6h2.5v2.5h-2.5zM779.3 320.9h2.5v2.5h-2.5zM779.3 342.2h2.5v2.5h-2.5zM779.3 363.5h2.5v2.5h-2.5zM779.3 384.8h2.5v2.5h-2.5zM779.3 406.0h2.5v2.5h-2.5zM779.3 427.3h2.5v2.5h-2.5zM779.3 448.6h2.5v2.5h-2.5zM779.3 469.9h2.5v2.5h-2.5zM779.3 491.2h2.5v2.5h-2.5zM779.3 512.4h2.5v2.5h-2.5zM779.3 533.7h2.5v2.5h-2.5zM779.3 555.0h2.5v2.5h-2.5zM779.3 576.3h2.5v2.5h-2.5zM779.3 597.5h2.5v2.5h-2.5zM779.3 618.8h2.5v2.5h-2.5zM779.3 640.1h2.5v2.5h-2.5zM800.6 65.5h2.5v2.5h-2.5zM800.6 86.8h2.5v2.5h-2.5zM800.6 108.1h2.5v2.5h-2.5zM800.6 129.4h2.5v2.5h-2.5zM800.6 150.7h2.5v2.5h-2.5zM800.6 171.9h2.5v2.5h-2.5zM800.6 193.2h2.5v2.5h-2.5zM800.6 214.5h2.5v2.5h-2.5zM800.6 235.8h2.5v2.5h-2.5zM800.6 257.1h2.5v2.5h-2.5zM800.6 278.4h2.5v2.5h-2.5zM800.6 299.6h2.5v2.5h-2.5zM800.6 320.9h2.5v2.5h-2.5zM800.6 342.2h2.5v2.5h-2.5zM800.6 363.5h2.5v2.5h-2.5zM800.6 384.8h2.5v2.5h-2.5zM800.6 406.0h2.5v2.5h-2.5zM800.6 427.3h2.5v2.5h-2.5zM800.6 448.6h2.5v2.5h-2.5zM800.6 469.9h2.5v2.5h-2.5zM800.6 491.2h2.5v2.5h-2.5zM800.6 512.4h2.5v2.5h-2.5zM800.6 533.7h2.5v2.5h-2.5zM800.6 555.0h2.5v2.5h-2.5zM800.6 576.3h2.5v2.5h-2.5zM800.6 597.5h2.5v2.5h-2.5zM800.6 618.8h2.5v2.5h-2.5zM800.6 640.1h2.5v2.5h-2.5zM821.9 65.5h2.5v2.5h-2.5zM821.9 86.8h2.5v2.5h-2.5zM821.9 108.1h2.5v2.5h-2.5zM821.9 129.4h2.5v2.5h-2.5zM821.9 150.7h2.5v2.5h-2.5zM821.9 171.9h2.5v2.5h-2.5zM821.9 193.2h2.5v2.5h-2.5zM821.9 214.5h2.5v2.5h-2.5zM821.9 235.8h2.5v2.5h-2.5zM821.9 257.1h2.5v2.5h-2.5zM821.9 278.4h2.5v2.5h-2.5zM821.9 299.6h2.5v2.5h-2.5zM821.9 320.9h2.5v2.5h-2.5zM821.9 342.2h2.5v2.5h-2.5zM821.9 363.5h2.5v2.5h-2.5zM821.9 384.8h2.5v2.5h-2.5zM821.9 406.0h2.5v2.5h-2.5zM821.9 427.3h2.5v2.5h-2.5zM821.9 448.6h2.5v2.5h-2.5zM821.9 469.9h2.5v2.5h-2.5zM821.9 491.2h2.5v2.5h-2.5zM821.9 512.4h2.5v2.5h-2.5zM821.9 533.7h2.5v2.5h-2.5zM821.9 555.0h2.5v2.5h-2.5zM821.9 576.3h2.5v2.5h-2.5zM821.9 597.5h2.5v2.5h-2.5zM821.9 618.8h2.5v2.5h-2.5zM821.9 640.1h2.5v2.5h-2.5zM843.2 65.5h2.5v2.5h-2.5zM843.2 86.8h2.5v2.5h-2.5zM843.2 108.1h2.5v2.5h-2.5zM843.2 129.4h2.5v2.5h-2.5zM843.2 150.7h2.5v2.5h-2.5zM843.2 171.9h2.5v2.5h-2.5zM843.2 193.2h2.5v2.5h-2.5zM843.2 214.5h2.5v2.5h-2.5zM843.2 235.8h2.5v2.5h-2.5zM843.2 257.1h2.5v2.5h-2.5zM843.2 278.4h2.5v2.5h-2.5zM843.2 299.6h2.5v2.5h-2.5zM843.2 320.9h2.5v2.5h-2.5zM843.2 342.2h2.5v2.5h-2.5zM843.2 363.5h2.5v2.5h-2.5zM843.2 384.8h2.5v2.5h-2.5zM843.2 406.0h2.5v2.5h-2.5zM843.2 427.3h2.5v2.5h-2.5zM843.2 448.6h2.5v2.5h-2.5zM843.2 469.9h2.5v2.5h-2.5zM843.2 491.2h2.5v2.5h-2.5zM843.2 512.4h2.5v2.5h-2.5zM843.2 533.7h2.5v2.5h-2.5zM843.2 555.0h2.5v2.5h-2.5zM843.2 576.3h2.5v2.5h-2.5zM843.2 597.5h2.5v2.5h-2.5zM843.2 618.8h2.5v2.5h-2.5zM843.2 640.1h2.5v2.5h-2.5zM864.5 65.5h2.5v2.5h-2.5zM864.5 86.8h2.5v2.5h-2.5zM864.5 108.1h2.5v2.5h-2.5zM864.5 129.4h2.5v2.5h-2.5zM864.5 150.7h2.5v2.5h-2.5zM864.5 171.9h2.5v2.5h-2.5zM864.5 193.2h2.5v2.5h-2.5zM864.5 214.5h2.5v2.5h-2.5zM864.5 235.8h2.5v2.5h-2.5zM864.5 257.1h2.5v2.5h-2.5zM864.5 278.4h2.5v2.5h-2.5zM864.5 299.6h2.5v2.5h-2.5zM864.5 320.9h2.5v2.5h-2.5zM864.5 342.2h2.5v2.5h-2.5zM864.5 363.5h2.5v2.5h-2.5zM864.5 384.8h2.5v2.5h-2.5zM864.5 406.0h2.5v2.5h-2.5zM864.5 427.3h2.5v2.5h-2.5zM864.5 448.6h2.5v2.5h-2.5zM864.5 469.9h2.5v2.5h-2.5zM864.5 491.2h2.5v2.5h-2.5zM864.5 512.4h2.5v2.5h-2.5zM864.5 533.7h2.5v2.5h-2.5zM864.5 555.0h2.5v2.5h-2.5zM864.5 576.3h2.5v2.5h-2.5zM864.5 597.5h2.5v2.5h-2.5zM864.5 618.8h2.5v2.5h-2.5zM864.5 640.1h2.5v2.5h-2.5zM885.7 65.5h2.5v2.5h-2.5zM885.7 86.8h2.5v2.5h-2.5zM885.7 108.1h2.5v2.5h-2.5zM885.7 129.4h2.5v2.5h-2.5zM885.7 150.7h2.5v2.5h-2.5zM885.7 171.9h2.5v2.5h-2.5zM885.7 193.2h2.5v2.5h-2.5zM885.7 214.5h2.5v2.5h-2.5zM885.7 235.8h2.5v2.5h-2.5zM885.7 257.1h2.5v2.5h-2.5zM885.7 278.4h2.5v2.5h-2.5zM885.7 299.6h2.5v2.5h-2.5zM885.7 320.9h2.5v2.5h-2.5zM885.7 342.2h2.5v2.5h-2.5zM885.7 363.5h2.5v2.5h-2.5zM885.7 384.8h2.5v2.5h-2.5zM885.7 406.0h2.5v2.5h-2.5zM885.7 427.3h2.5v2.5h-2.5zM885.7 448.6h2.5v2.5h-2.5zM885.7 469.9h2.5v2.5h-2.5zM885.7 491.2h2.5v2.5h-2.5zM885.7 512.4h2.5v2.5h-2.5zM885.7 533.7h2.5v2.5h-2.5zM885.7 555.0h2.5v2.5h-2.5zM885.7 576.3h2.5v2.5h-2.5zM885.7 597.5h2.5v2.5h-2.5zM885.7 618.8h2.5v2.5h-2.5zM885.7 640.1h2.5v2.5h-2.5zM907.0 65.5h2.5v2.5h-2.5zM907.0 86.8h2.5v2.5h-2.5zM907.0 108.1h2.5v2.5h-2.5zM907.0 129.4h2.5v2.5h-2.5zM907.0 150.7h2.5v2.5h-2.5zM907.0 171.9h2.5v2.5h-2.5zM907.0 193.2h2.5v2.5h-2.5zM907.0 214.5h2.5v2.5h-2.5zM907.0 235.8h2.5v2.5h-2.5zM907.0 257.1h2.5v2.5h-2.5zM907.0 278.4h2.5v2.5h-2.5zM907.0 299.6h2.5v2.5h-2.5zM907.0 320.9h2.5v2.5h-2.5zM907.0 342.2h2.5v2.5h-2.5zM907.0 363.5h2.5v2.5h-2.5zM907.0 384.8h2.5v2.5h-2.5zM907.0 406.0h2.5v2.5h-2.5zM907.0 427.3h2.5v2.5h-2.5zM907.0 448.6h2.5v2.5h-2.5zM907.0 469.9h2.5v2.5h-2.5zM907.0 491.2h2.5v2.5h-2.5zM907.0 512.4h2.5v2.5h-2.5zM907.0 533.7h2.5v2.5h-2.5zM907.0 555.0h2.5v2.5h-2.5zM907.0 576.3h2.5v2.5h-2.5zM907.0 597.5h2.5v2.5h-2.5zM907.0 618.8h2.5v2.5h-2.5zM907.0 640.1h2.5v2.5h-2.5zM928.3 65.5h2.5v2.5h-2.5zM928.3 86.8h2.5v2.5h-2.5zM928.3 108.1h2.5v2.5h-2.5zM928.3 129.4h2.5v2.5h-2.5zM928.3 150.7h2.5v2.5h-2.5zM928.3 171.9h2.5v2.5h-2.5zM928.3 193.2h2.5v2.5h-2.5zM928.3 214.5h2.5v2.5h-2.5zM928.3 235.8h2.5v2.5h-2.5zM928.3 257.1h2.5v2.5h-2.5zM928.3 278.4h2.5v2.5h-2.5zM928.3 299.6h2.5v2.5h-2.5zM928.3 320.9h2.5v2.5h-2.5zM928.3 342.2h2.5v2.5h-2.5zM928.3 363.5h2.5v2.5h-2.5zM928.3 384.8h2.5v2.5h-2.5zM928.3 406.0h2.5v2.5h-2.5zM928.3 427.3h2.5v2.5h-2.5zM928.3 448.6h2.5v2.5h-2.5zM928.3 469.9h2.5v2.5h-2.5zM928.3 491.2h2.5v2.5h-2.5zM928.3 512.4h2.5v2.5h-2.5zM928.3 533.7h2.5v2.5h-2.5zM928.3 555.0h2.5v2.5h-2.5zM928.3 576.3h2.5v2.5h-2.5zM928.3 597.5h2.5v2.5h-2.5zM928.3 618.8h2.5v2.5h-2.5zM928.3 640.1h2.5v2.5h-2.5zM949.6 65.5h2.5v2.5h-2.5zM949.6 86.8h2.5v2.5h-2.5zM949.6 108.1h2.5v2.5h-2.5zM949.6 129.4h2.5v2.5h-2.5zM949.6 150.7h2.5v2.5h-2.5zM949.6 171.9h2.5v2.5h-2.5zM949.6 193.2h2.5v2.5h-2.5zM949.6 214.5h2.5v2.5h-2.5zM949.6 235.8h2.5v2.5h-2.5zM949.6 257.1h2.5v2.5h-2.5zM949.6 278.4h2.5v2.5h-2.5zM949.6 299.6h2.5v2.5h-2.5zM949.6 320.9h2.5v2.5h-2.5zM949.6 342.2h2.5v2.5h-2.5zM949.6 363.5h2.5v2.5h-2.5zM949.6 384.8h2.5v2.5h-2.5zM949.6 406.0h2.5v2.5h-2.5zM949.6 427.3h2.5v2.5h-2.5zM949.6 448.6h2.5v2.5h-2.5zM949.6 469.9h2.5v2.5h-2.5zM949.6 491.2h2.5v2.5h-2.5zM949.6 512.4h2.5v2.5h-2.5zM949.6 533.7h2.5v2.5h-2.5zM949.6 555.0h2.5v2.5h-2.5zM949.6 576.3h2.5v2.5h-2.5zM949.6 597.5h2.5v2.5h-2.5zM949.6 618.8h2.5v2.5h-2.5zM949.6 640.1h2.5v2.5h-2.5zM970.9 65.5h2.5v2.5h-2.5zM970.9 86.8h2.5v2.5h-2.5zM970.9 108.1h2.5v2.5h-2.5zM970.9 129.4h2.5v2.5h-2.5zM970.9 150.7h2.5v2.5h-2.5zM970.9 171.9h2.5v2.5h-2.5zM970.9 193.2h2.5v2.5h-2.5zM970.9 214.5h2.5v2.5h-2.5zM970.9 235.8h2.5v2.5h-2.5zM970.9 257.1h2.5v2.5h-2.5zM970.9 278.4h2.5v2.5h-2.5zM970.9 299.6h2.5v2.5h-2.5zM970.9 320.9h2.5v2.5h-2.5zM970.9 342.2h2.5v2.5h-2.5zM970.9 363.5h2.5v2.5h-2.5zM970.9 384.8h2.5v2.5h-2.5zM970.9 406.0h2.5v2.5h-2.5zM970.9 427.3h2.5v2.5h-2.5zM970.9 448.6h2.5v2.5h-2.5zM970.9 469.9h2.5v2.5h-2.5zM970.9 491.2h2.5v2.5h-2.5zM970.9 512.4h2.5v2.5h-2.5zM970.9 533.7h2.5v2.5h-2.5zM970.9 555.0h2.5v2.5h-2.5zM970.9 576.3h2.5v2.5h-2.5zM970.9 597.5h2.5v2.5h-2.5zM970.9 618.8h2.5v2.5h-2.5zM970.9 640.1h2.5v2.5h-2.5zM992.1 65.5h2.5v2.5h-2.5zM992.1 86.8h2.5v2.5h-2.5zM992.1 108.1h2.5v2.5h-2.5zM992.1 129.4h2.5v2.5h-2.5zM992.1 150.7h2.5v2.5h-2.5zM992.1 171.9h2.5v2.5h-2.5zM992.1 193.2h2.5v2.5h-2.5zM992.1 214.5h2.5v2.5h-2.5zM992.1 235.8h2.5v2.5h-2.5zM992.1 257.1h2.5v2.5h-2.5zM992.1 278.4h2.5v2.5h-2.5zM992.1 299.6h2.5v2.5h-2.5zM992.1 320.9h2.5v2.5h-2.5zM992.1 342.2h2.5v2.5h-2.5zM992.1 363.5h2.5v2.5h-2.5zM992.1 384.8h2.5v2.5h-2.5zM992.1 406.0h2.5v2.5h-2.5zM992.1 427.3h2.5v2.5h-2.5zM992.1 448.6h2.5v2.5h-2.5zM992.1 469.9h2.5v2.5h-2.5zM992.1 491.2h2.5v2.5h-2.5zM992.1 512.4h2.5v2.5h-2.5zM992.1 533.7h2.5v2.5h-2.5zM992.1 555.0h2.5v2.5h-2.5zM992.1 576.3h2.5v2.5h-2.5zM992.1 597.5h2.5v2.5h-2.5zM992.1 618.8h2.5v2.5h-2.5zM992.1 640.1h2.5v2.5h-2.5z"/>
<g stroke="#338c38" stroke-width="2.2" fill="none" stroke-linecap="square">
<path d="M205.8 245.8V109.2H482.3V240"/>
<path d="M482.3 343.5V471.7H205.8"/>
<path d="M205.8 343V556.6"/>
<path d="M780.3 108.7V241.2M780.3 341.4V556"/>
</g>
<rect x="200.6" y="466.8" width="10" height="10" fill="#0b7a1e"/>
<g stroke="#ad2233" stroke-width="1.9" fill="none">
<circle cx="205.5" cy="289.6" r="41.6"/>
<path d="M205.5 245.8V248M205.5 331.2V343"/>
<path d="M205.5 313V286"/>
<path d="M205.6 268.8L202.2 276L201.6 283L200.6 285.4H210.8L209.8 283L209.1 276Z"/>
<path d="M482.3 240V247L504 258L460 279.6L504 300.9L460 322.2L482.3 332.8V343.5"/>
<circle cx="779.4" cy="290" r="42.4"/>
<path d="M779.8 241.2V247.6M779.8 332.4V341.4"/>
<path d="M769.2 264.2H790.5M779.8 253V275.3M769.2 316.8H790.5"/>
<path d="M183 556.6H228.8L205.8 579Z"/>
<path d="M757.3 556.3H803.3L780.3 578.7Z"/>
</g>
<text x="139" y="247" font-size="30" font-weight="bold" fill="#000" text-anchor="start" textLength="34" lengthAdjust="spacingAndGlyphs" stroke="#000" stroke-width="0.6">IIN</text>
<text x="157.5" y="353" font-size="30" font-weight="bold" fill="#000" text-anchor="start" textLength="12.5" lengthAdjust="spacingAndGlyphs" stroke="#000" stroke-width="0.6">1</text>
<text x="509" y="277.6" font-size="30" font-weight="bold" fill="#000" text-anchor="start" textLength="33.5" lengthAdjust="spacingAndGlyphs" stroke="#000" stroke-width="0.6">R1</text>
<text x="509" y="327" font-size="30" font-weight="bold" fill="#000" text-anchor="start" textLength="95.5" lengthAdjust="spacingAndGlyphs" stroke="#000" stroke-width="0.6">R=V(R)</text>
<text x="811.5" y="247.2" font-size="30" font-weight="bold" fill="#000" text-anchor="start" textLength="34.5" lengthAdjust="spacingAndGlyphs" stroke="#000" stroke-width="0.6">V1</text>
<text x="812.3" y="353.3" font-size="30.5" font-weight="bold" fill="#000" text-anchor="start" textLength="174" lengthAdjust="spacingAndGlyphs" stroke="#000" stroke-width="0.6">PWL(0 0 1 1)</text>
<text x="178" y="620" font-size="30" font-weight="bold" fill="#000" text-anchor="start" textLength="88" lengthAdjust="spacingAndGlyphs" stroke="#000" stroke-width="0.6">.tran 1</text>
<text x="438.8" y="102.3" font-size="32" font-weight="bold" fill="#ff00ff" text-anchor="start" textLength="85" lengthAdjust="spacingAndGlyphs" stroke="#ff00ff" stroke-width="0.5">VOUT</text>
<text transform="translate(789.9 106.2) rotate(-90)" font-size="35" font-weight="bold" fill="#ff00ff" stroke="#ff00ff" stroke-width="0.5" textLength="22" lengthAdjust="spacingAndGlyphs">R</text>
<path d="M1135.3 97.1V603.0M1086.1 553.2H1597.6M1187.0 97.1V603.0M1086.1 501.9H1597.6M1238.7 97.1V603.0M1086.1 450.5H1597.6M1290.4 97.1V603.0M1086.1 399.2H1597.6M1342.1 97.1V603.0M1086.1 347.9H1597.6M1393.9 97.1V603.0M1086.1 296.6H1597.6M1445.6 97.1V603.0M1086.1 245.3H1597.6M1497.3 97.1V603.0M1086.1 193.9H1597.6M1549.0 97.1V603.0M1086.1 142.6H1597.6" stroke="#5a5a5a" stroke-width="2" stroke-dasharray="4.7 4.7" fill="none"/>
<path d="M1083.3 604.5V616.5M1071.3 604.5H1083.3M1135.3 604.5V616.5M1071.3 553.2H1083.3M1187.0 604.5V616.5M1071.3 501.9H1083.3M1238.7 604.5V616.5M1071.3 450.5H1083.3M1290.4 604.5V616.5M1071.3 399.2H1083.3M1342.1 604.5V616.5M1071.3 347.9H1083.3M1393.9 604.5V616.5M1071.3 296.6H1083.3M1445.6 604.5V616.5M1071.3 245.3H1083.3M1497.3 604.5V616.5M1071.3 193.9H1083.3M1549.0 604.5V616.5M1071.3 142.6H1083.3M1599.1 604.5V616.5M1071.3 91.3H1083.3" stroke="#000" stroke-width="2.6" fill="none"/>
<rect x="1083.3" y="91.3" width="515.8" height="513.2" stroke="#000" stroke-width="2.6" fill="none"/>
<path d="M1083.3 604.5L1599.1 91.3" stroke="#e80a14" stroke-width="3.3" fill="none"/>
<text x="1070" y="611.9" font-size="20" font-weight="bold" fill="#000" text-anchor="end" textLength="40.5" lengthAdjust="spacingAndGlyphs">0.0V</text>
<text x="1083.7" y="636.6" font-size="20" font-weight="bold" fill="#000" text-anchor="middle" textLength="35.5" lengthAdjust="spacingAndGlyphs">0.0s</text>
<text x="1070" y="560.6" font-size="20" font-weight="bold" fill="#000" text-anchor="end" textLength="40.5" lengthAdjust="spacingAndGlyphs">0.1V</text>
<text x="1135.7" y="636.6" font-size="20" font-weight="bold" fill="#000" text-anchor="middle" textLength="35.5" lengthAdjust="spacingAndGlyphs">0.1s</text>
<text x="1070" y="509.3" font-size="20" font-weight="bold" fill="#000" text-anchor="end" textLength="40.5" lengthAdjust="spacingAndGlyphs">0.2V</text>
<text x="1187.4" y="636.6" font-size="20" font-weight="bold" fill="#000" text-anchor="middle" textLength="35.5" lengthAdjust="spacingAndGlyphs">0.2s</text>
<text x="1070" y="457.9" font-size="20" font-weight="bold" fill="#000" text-anchor="end" textLength="40.5" lengthAdjust="spacingAndGlyphs">0.3V</text>
<text x="1239.1" y="636.6" font-size="20" font-weight="bold" fill="#000" text-anchor="middle" textLength="35.5" lengthAdjust="spacingAndGlyphs">0.3s</text>
<text x="1070" y="406.6" font-size="20" font-weight="bold" fill="#000" text-anchor="end" textLength="40.5" lengthAdjust="spacingAndGlyphs">0.4V</text>
<text x="1290.8" y="636.6" font-size="20" font-weight="bold" fill="#000" text-anchor="middle" textLength="35.5" lengthAdjust="spacingAndGlyphs">0.4s</text>
<text x="1070" y="355.3" font-size="20" font-weight="bold" fill="#000" text-anchor="end" textLength="40.5" lengthAdjust="spacingAndGlyphs">0.5V</text>
<text x="1342.5" y="636.6" font-size="20" font-weight="bold" fill="#000" text-anchor="middle" textLength="35.5" lengthAdjust="spacingAndGlyphs">0.5s</text>
<text x="1070" y="304.0" font-size="20" font-weight="bold" fill="#000" text-anchor="end" textLength="40.5" lengthAdjust="spacingAndGlyphs">0.6V</text>
<text x="1394.3" y="636.6" font-size="20" font-weight="bold" fill="#000" text-anchor="middle" textLength="35.5" lengthAdjust="spacingAndGlyphs">0.6s</text>
<text x="1070" y="252.7" font-size="20" font-weight="bold" fill="#000" text-anchor="end" textLength="40.5" lengthAdjust="spacingAndGlyphs">0.7V</text>
<text x="1446.0" y="636.6" font-size="20" font-weight="bold" fill="#000" text-anchor="middle" textLength="35.5" lengthAdjust="spacingAndGlyphs">0.7s</text>
<text x="1070" y="201.3" font-size="20" font-weight="bold" fill="#000" text-anchor="end" textLength="40.5" lengthAdjust="spacingAndGlyphs">0.8V</text>
<text x="1497.7" y="636.6" font-size="20" font-weight="bold" fill="#000" text-anchor="middle" textLength="35.5" lengthAdjust="spacingAndGlyphs">0.8s</text>
<text x="1070" y="150.0" font-size="20" font-weight="bold" fill="#000" text-anchor="end" textLength="40.5" lengthAdjust="spacingAndGlyphs">0.9V</text>
<text x="1549.4" y="636.6" font-size="20" font-weight="bold" fill="#000" text-anchor="middle" textLength="35.5" lengthAdjust="spacingAndGlyphs">0.9s</text>
<text x="1070" y="98.7" font-size="20" font-weight="bold" fill="#000" text-anchor="end" textLength="40.5" lengthAdjust="spacingAndGlyphs">1.0V</text>
<text x="1599.5" y="636.6" font-size="20" font-weight="bold" fill="#000" text-anchor="middle" textLength="35.5" lengthAdjust="spacingAndGlyphs">1.0s</text>
<text x="1307.6" y="83.5" font-size="20" font-weight="bold" fill="#ee1111" text-anchor="start" textLength="67.6" lengthAdjust="spacingAndGlyphs">V(vout)</text>
<path d="M491.5 64V29A19 19 0 0 1 510.5 10H1311A19 19 0 0 1 1330 29V33" stroke="#f26dc9" stroke-width="18.5" fill="none"/>
<path d="M1313.6 32.1L1347.9 32.3L1330.7 48.9Z" fill="#f26dc9"/>
<path d="M491.5 60.7V29A19 19 0 0 1 510.5 10H1311A19 19 0 0 1 1330 29V33V36.5" stroke="#ff0000" stroke-width="11.2" fill="none"/>
<path d="M1321 35H1340.3L1330.7 44.9Z" fill="#ff0000"/>
<path d="M2 11.6L393 11.6L393 66.8L164.2 66.8L154 196L66 66.8L2 66.8Z" fill="#f2dcdb" stroke="#000" stroke-width="2" stroke-linejoin="miter"/>
<path d="M367 616.8L513.6 616.8L523.5 334.9L576 616.8L618.2 616.8L618.2 807.6L367 807.6Z" fill="#dbe5f1" stroke="#000" stroke-width="2" stroke-linejoin="miter"/>
<path d="M647.8 616.8L870 616.8L912.3 370.6L965.4 616.8L1028.3 616.8L1028.3 806.9L647.8 806.9Z" fill="#dbe5f1" stroke="#000" stroke-width="2" stroke-linejoin="miter"/>
<path d="M1075.7 650.9L1137.3 650.9L1083.3 614.4L1226.8 650.9L1442.4 650.9L1442.4 807.5L1075.7 807.5Z" fill="#ebf1de" stroke="#000" stroke-width="2" stroke-linejoin="miter"/>
<text x="50.8" y="51" font-size="26" fill="#000" text-anchor="start" textLength="292" lengthAdjust="spacingAndGlyphs" stroke="#000" stroke-width="0.3">入力電流IINは1Aに設定</text>
<text x="381" y="671" font-size="26" fill="#000" text-anchor="start" textLength="234" lengthAdjust="spacingAndGlyphs" stroke="#000" stroke-width="0.3">抵抗R1の抵抗値は</text>
<text x="408" y="706" font-size="26" fill="#000" text-anchor="start" textLength="155" lengthAdjust="spacingAndGlyphs" stroke="#000" stroke-width="0.3">0秒の時：0Ω</text>
<text x="408" y="741" font-size="26" fill="#000" text-anchor="start" textLength="155" lengthAdjust="spacingAndGlyphs" stroke="#000" stroke-width="0.3">1秒の時：1Ω</text>
<text x="378.5" y="776" font-size="26" fill="#000" text-anchor="start" textLength="92" lengthAdjust="spacingAndGlyphs" stroke="#000" stroke-width="0.3">となる。</text>
<text x="659.3" y="705" font-size="26" fill="#000" text-anchor="start" textLength="350" lengthAdjust="spacingAndGlyphs" stroke="#000" stroke-width="0.3">ノードの電圧はPWLを用いて</text>
<text x="659.3" y="741" font-size="26" fill="#000" text-anchor="start" textLength="104" lengthAdjust="spacingAndGlyphs" stroke="#000" stroke-width="0.3">と設定。</text>
<text x="1089" y="688" font-size="23" fill="#000" text-anchor="start" textLength="140" lengthAdjust="spacingAndGlyphs" stroke="#000" stroke-width="0.2">0sの時は、</text>
<text x="1089" y="723.4" font-size="23" fill="#000" text-anchor="start" textLength="197" lengthAdjust="spacingAndGlyphs" stroke="#000" stroke-width="0.2">R = V(R) = 0 = 0</text>
<text x="1089" y="757" font-size="23" fill="#000" text-anchor="start" textLength="236" lengthAdjust="spacingAndGlyphs" stroke="#000" stroke-width="0.2">なのでR1は0[Ω]。</text>
<text x="1089" y="791" font-size="23" fill="#000" text-anchor="start" textLength="338" lengthAdjust="spacingAndGlyphs" stroke="#000" stroke-width="0.2">そのため、0Vとなっている。</text>
<circle cx="147.5" cy="860.3" r="29.2" fill="#9bbb59"/>
<circle cx="147.5" cy="955.6" r="29.2" fill="#9bbb59"/>
<text x="148" y="873.7" font-size="36" fill="#fff" text-anchor="middle">1</text>
<text x="148" y="969" font-size="36" fill="#fff" text-anchor="middle">2</text>
<text x="214.5" y="877.5" font-size="37" fill="#000" text-anchor="start" textLength="1378" lengthAdjust="spacingAndGlyphs" stroke="#000" stroke-width="0.45">入力電流を1Aに設定しているため、出力電圧VOUTの値は抵抗値と等しくなる。</text>
<text x="214.5" y="971.5" font-size="37" fill="#000" text-anchor="start" textLength="1141" lengthAdjust="spacingAndGlyphs" stroke="#000" stroke-width="0.45">シミュレーション結果より、時間によって、電圧値が変化している。</text>
<path d="M215.5 1010.5H245.5M231.5 997L245.5 1010.5L231.5 1024" stroke="#000" stroke-width="2.8" fill="none"/>
<text x="251.5" y="1019.5" font-size="37" fill="#000" text-anchor="start" textLength="1031" lengthAdjust="spacingAndGlyphs" stroke="#000" stroke-width="0.45">すなわち、抵抗値が時間によって変化していることを確認！</text>
</svg></body></html>
